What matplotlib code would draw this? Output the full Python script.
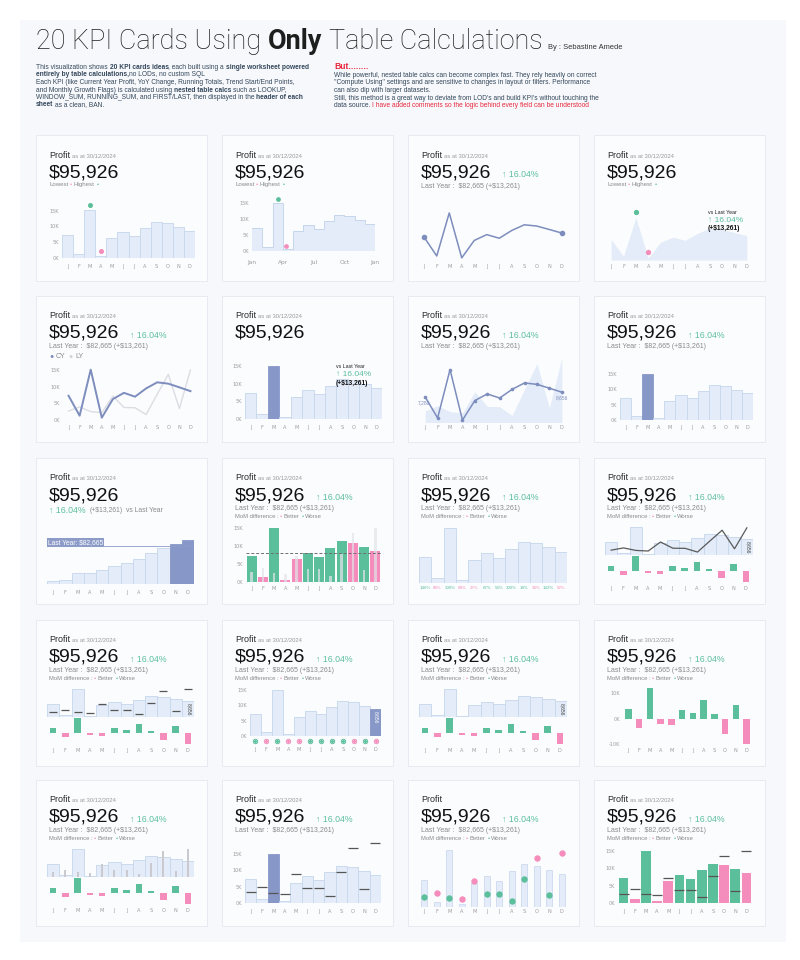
import numpy as np
import matplotlib
matplotlib.use("Agg")
import matplotlib.pyplot as plt
from matplotlib.patches import Rectangle
from matplotlib.lines import Line2D
from matplotlib.transforms import blended_transform_factory as blend

# ---- data
months = ['J', 'F', 'M', 'A', 'M', 'J', 'J', 'A', 'S', 'O', 'N', 'D']
profit_cy = [7280, 1290, 15110, 690, 6280, 8150, 6990, 9480, 11300, 10900, 9800, 8656]
profit_ly = [3300, 4800, 3100, 2700, 8800, 4600, 4500, 2000, 9465, 16800, 4200, 18400]
growth_pct = ['146%', '88%', '300%', '68%', '27%', '67%', '54%', '300%', '18%', '34%', '142%', '52%']
date_ticks = ['Jan', 'Apr', 'Jul', 'Oct', 'Jan']
k_ticks = [0, 5000, 10000, 15000]
diff_ticks = [-10000, 0, 10000]
kpi_value = '$95,926'
kpi_delta = '16.04%'
ly_value = '$82,665'
ly_diff = '+$13,261'
as_at = '30/12/2024'

cy = np.array(profit_cy)
ly = np.array(profit_ly)
diff = cy - ly
better = cy > ly
x = np.arange(12)

# ---- style
CARD_FONT = ['Liberation Sans', 'DejaVu Sans']
TITLE_FONT = ['Roboto', 'DejaVu Sans']
GREEN = '#5cbf9b'
PINK = '#f48dbb'
LIGHT = '#e3ecf8'
EDGE = '#c6d6ec'
DARKBAR = '#8797c8'
LINE = '#7d8dbd'
GRAY = '#8a8a8a'
TICK = '#9c9c9c'
DASH = '#555555'

W, H = 800, 960
fig = plt.figure(figsize=(8, 9.6), dpi=100, facecolor='white')
R = fig.canvas.get_renderer()


def fx(v):
    return v / W


def fy(v):
    return 1 - v / H


def esc(s):
    return s.replace('$', r'\$')


def rect(x0, y0, w, h, fc, ec='none', lw=0):
    fig.add_artist(Rectangle((fx(x0), fy(y0 + h)), w / W, h / H, transform=fig.transFigure,
                             fc=fc, ec=ec, lw=lw, zorder=0))


def text(x0, y0, s, size, color, weight='normal', family=CARD_FONT, **kw):
    kw.setdefault('va', 'baseline')
    kw.setdefault('ha', 'left')
    return fig.text(fx(x0), fy(y0), esc(s), fontsize=size, color=color, fontweight=weight,
                    family=family, **kw)


def width(s, size, weight='normal', family=CARD_FONT):
    t = fig.text(0, 0, esc(s), fontsize=size, fontweight=weight, family=family)
    w = t.get_window_extent(R).width
    t.remove()
    return w


def rich(x0, y0, segs, family=CARD_FONT):
    for s, color, weight, size in segs:
        sp = width('x x', size, weight, family) - width('xx', size, weight, family)
        core = s.strip(' ')
        x0 += (len(s) - len(s.lstrip(' '))) * sp
        if core:
            t = text(x0, y0, core, size, color, weight, family)
            x0 += t.get_window_extent(R).width
        x0 += (len(s) - len(s.rstrip(' '))) * sp
    return x0


# ---- background, title, notes
rect(20, 20, 766, 922, '#f7f8fb')

title_segs = [('20 KPI Cards Using ', 'light'), ('Only', 'bold'), (' Table Calculations', 'light')]
w20 = sum(width(s, 20, w, TITLE_FONT) for s, w in title_segs)
tsize = 20 * 506 / w20
xe = rich(36, 49, [(s, '#1e1e1e', w, tsize) for s, w in title_segs], family=TITLE_FONT)
rich(xe + 6, 49, [('By : Sebastine Amede', '#333333', 'normal', 5.4)], family=CARD_FONT)

NOTE = '#33475b'
dsize = 4.3 * 258 / width('Each KPI (like Current Year Profit, YoY Change, Running Totals, Trend Start/End Points,', 4.3)
left_lines = [
    [('This visualization shows ', 'normal'), ('20 KPI cards ideas', 'bold'), (', each built using a ', 'normal'),
     ('single worksheet powered', 'bold')],
    [('entirely by table calculations,', 'bold'), ('no LODs, no custom SQL', 'normal')],
    [('Each KPI (like Current Year Profit, YoY Change, Running Totals, Trend Start/End Points,', 'normal')],
    [('and Monthly Growth Flags) is calculated using ', 'normal'), ('nested table calcs', 'bold'),
     (' such as LOOKUP,', 'normal')],
    [('WINDOW_SUM, RUNNING_SUM, and FIRST/LAST, then displayed in the ', 'normal'), ('header of each', 'bold')],
    [('sheet', 'bold'), (' as a clean, BAN.', 'normal')],
]
for k, line in enumerate(left_lines):
    rich(36, 69 + 7.5 * k, [(s, NOTE, w, dsize) for s, w in line])

RED = '#e8283c'
rich(334, 69, [('But........', RED, 'bold', 6.2)])
right_lines = [
    [('While powerful, nested table calcs can become complex fast. They rely heavily on correct', NOTE)],
    [('"Compute Using" settings and are sensitive to changes in layout or filters. Performance', NOTE)],
    [('can also dip with larger datasets.', NOTE)],
    [("Still, this method is a great way to deviate from LOD's and build KPI's without touching the", NOTE)],
    [('data source. ', NOTE), ('I have added comments so the logic behind every field can be understood', RED)],
]
for k, line in enumerate(right_lines):
    rich(334, 77 + 7.5 * k, [(s, c, 'normal', dsize) for s, c in line])

# ---- cards
col_x = [36, 222, 408, 594]
row_y = [135, 296, 458, 620, 780]
card_pos = [(col_x[i % 4], row_y[i // 4]) for i in range(20)]
for cx, cy0 in card_pos:
    rect(cx, cy0, 171, 146, '#fbfcfe', ec='#e4e7ee', lw=0.6)


def header(i, asat=True, delta=True, last=True, sub=None):
    cx, cy0 = card_pos[i]
    segs = [('Profit', '#2b2b2b', 'normal', 6.5)]
    if asat:
        segs.append((' as at ' + as_at, '#9a9a9a', 'normal', 4.2))
    rich(cx + 13, cy0 + 22.5, segs)
    text(cx + 12.5, cy0 + 42, kpi_value, 14, '#111111')
    if delta:
        text(cx + 94, cy0 + 42, '\u2191 ' + kpi_delta, 6.3, GREEN)
    if last:
        text(cx + 13, cy0 + 52.5, 'Last Year :  %s (%s)' % (ly_value, ly_diff), 5, GRAY)
    if sub == 'lowhigh':
        rich(cx + 13, cy0 + 51, [('Lowest', GRAY, 'normal', 4.4), (' \u2022', PINK, 'normal', 4.4),
                                 (' Highest', GRAY, 'normal', 4.4), (' \u2022', GREEN, 'normal', 4.4)])
    elif sub == 'mom':
        rich(cx + 13, cy0 + 60, [('MoM difference :', GRAY, 'normal', 4.2), (' \u2022', PINK, 'normal', 4.2),
                                 (' Better', GRAY, 'normal', 4.2), (' \u2022', GREEN, 'normal', 4.2),
                                 (' Worse', GRAY, 'normal', 4.2)])
    elif sub == 'legend':
        rich(cx + 13, cy0 + 62, [('\u25cf', LINE, 'normal', 5), (' CY', GRAY, 'normal', 5),
                                 ('  \u25cf', '#d2d3da', 'normal', 5), (' LY', GRAY, 'normal', 5)])
    elif sub == 'vsline':
        rich(cx + 13, cy0 + 54.5, [('\u2191 ' + kpi_delta, GREEN, 'normal', 6.3),
                                   ('  (%s)' % ly_diff, GRAY, 'normal', 4.9),
                                   ('  vs Last Year', GRAY, 'normal', 4.9)])


def card_ax(i, x0, y0, x1, y1, ticks=True, lab=131):
    cx, cy0 = card_pos[i]
    a = fig.add_axes([fx(cx + x0), fy(cy0 + y1), (x1 - x0) / W, (y1 - y0) / H])
    a.patch.set_visible(False)
    for s in a.spines.values():
        s.set_visible(False)
    a.tick_params(axis='y', length=0, labelsize=3.6, labelcolor=TICK, pad=2)
    a.tick_params(axis='x', length=0, labelsize=3.6, labelcolor=TICK,
                  pad=max(0, (lab - 2 - y1) * 0.72))
    a.set_xlim(-0.5, 11.5)
    a.set_yticks([])
    if ticks:
        a.set_xticks(x, months)
    else:
        a.set_xticks([])
    return a


def twin(a, top):
    t = a.twinx()
    t.set_ylim(0, top)
    t.set_yticks([])
    t.patch.set_visible(False)
    for s in t.spines.values():
        s.set_visible(False)
    return t


def kaxis(a, ticks):
    a.set_yticks(ticks, ['%dK' % (v // 1000) for v in ticks])


def vs_box(i, rx, ry):
    cx, cy0 = card_pos[i]
    text(cx + rx, cy0 + ry, 'vs Last Year', 3.8, '#222222', va='center')
    text(cx + rx, cy0 + ry + 8, '\u2191 ' + kpi_delta, 6, GREEN, va='center')
    text(cx + rx, cy0 + ry + 16.5, '(%s)' % ly_diff, 4.8, '#111111', weight='bold', va='center')


def light_bars(a, width_=1.0, hi=None):
    cols = [DARKBAR if (hi is not None and hi[k]) else LIGHT for k in range(12)]
    edges = [DARKBAR if (hi is not None and hi[k]) else EDGE for k in range(12)]
    a.bar(x, cy, width=width_, color=cols, edgecolor=edges, lw=0.6)


def diff_panel(i):
    b = card_ax(i, 11, 97, 158, 128, lab=130)
    b.bar(x, diff, width=0.55, color=[GREEN if g else PINK for g in better])
    b.set_ylim(-12700, 13100)
    return b


def end_label(a, color):
    a.annotate('{:,}'.format(profit_cy[-1]), (11, profit_cy[-1]), xytext=(0.6, -1.5),
               textcoords='offset points', rotation=270, ha='center', va='top',
               fontsize=3.6, color=color, family=CARD_FONT)


imax = int(np.argmax(cy))
imin = int(np.argmin(cy))
is_max = cy == cy.max()
is_last = x == 11

# 1 - bars, lowest / highest
header(0, delta=False, last=False, sub='lowhigh')
a = card_ax(0, 26, 66, 159, 123)
light_bars(a)
a.plot(imax, cy[imax] + 1500, 'o', color=GREEN, ms=2.6)
a.plot(imin, cy[imin] + 1500, 'o', color=PINK, ms=2.6)
a.set_ylim(0, 18000)
kaxis(a, k_ticks)

# 2 - step area over dates
header(1, delta=False, last=False, sub='lowhigh')
a = card_ax(1, 30, 62, 153, 116, lab=127)
xs = np.arange(13)
ys = list(profit_cy) + [profit_cy[-1]]
a.fill_between(xs, ys, step='post', color=LIGHT, lw=0)
a.step(xs, ys, where='post', color=EDGE, lw=0.7)
a.plot(imax + 0.5, cy[imax] + 1300, 'o', color=GREEN, ms=2.4)
a.plot(imin + 0.3, cy[imin] + 1000, 'o', color=PINK, ms=2.4)
a.set_xlim(0, 12)
a.set_xticks([0, 3, 6, 9, 12], date_ticks)
a.tick_params(axis='x', labelsize=4.2)
a.set_ylim(0, 17000)
kaxis(a, k_ticks)

# 3 - line with start / end points
header(2)
a = card_ax(2, 10, 68, 160, 125)
a.plot(x, cy, color=LINE, lw=1.1)
a.plot([0, 11], [cy[0], cy[11]], 'o', color=LINE, ms=3)
a.set_ylim(0, 18300)

# 4 - area with lowest / highest and vs last year
header(3, delta=False, last=False, sub='lowhigh')
a = card_ax(3, 11, 68, 159, 125)
a.fill_between(x, cy, color=LIGHT, lw=0)
a.plot(imax, cy[imax] + 2000, 'o', color=GREEN, ms=2.8)
a.plot(imin, cy[imin] + 2200, 'o', color=PINK, ms=2.8)
a.set_ylim(0, 20300)
vs_box(3, 114, 77)

# 5 - CY vs LY lines
header(4, sub='legend')
a = card_ax(4, 27, 68, 160, 124)
t = twin(a, 20600)
t.plot(x, ly, color='#dcdde3', lw=1.0)
a.set_zorder(t.get_zorder() + 1)
a.plot(x, cy, color=LINE, lw=1.4)
a.set_ylim(0, 16800)
kaxis(a, k_ticks)

# 6 - bars, max highlighted, vs last year
header(5, delta=False, last=False)
a = card_ax(5, 23, 64, 160, 123)
light_bars(a, hi=is_max)
a.set_ylim(0, 16700)
kaxis(a, k_ticks)
vs_box(5, 114, 71)

# 7 - line over last-year area
header(6)
a = card_ax(6, 11, 60, 160, 126.5)
a.fill_between(x, ly, color=LIGHT, lw=0)
a.plot(x, cy, color=LINE, lw=1.1, marker='o', ms=1.6)
a.annotate('{:,}'.format(profit_cy[0]), (0, cy[0]), xytext=(-1, -2), textcoords='offset points',
           ha='center', va='top', fontsize=3.5, color=LINE, family=CARD_FONT)
a.annotate('{:,}'.format(profit_cy[-1]), (11, cy[11]), xytext=(0, -2), textcoords='offset points',
           ha='center', va='top', fontsize=3.5, color=LINE, family=CARD_FONT)
a.set_ylim(0, 19000)

# 8 - bars, max highlighted
header(7)
a = card_ax(7, 26, 68, 159, 124)
light_bars(a, hi=is_max)
a.set_ylim(0, 18200)
kaxis(a, k_ticks)

# 9 - running total vs last year total
header(8, delta=False, last=False, sub='vsline')
a = card_ax(8, 11, 68, 158, 126, lab=134)
run = np.cumsum(cy)
ly_total = ly.sum()
a.bar(x, run, width=1.0, color=[DARKBAR if v > ly_total else LIGHT for v in run],
      edgecolor=[DARKBAR if v > ly_total else EDGE for v in run], lw=0.6)
a.axhline(ly_total, color='#8d9bc8', lw=0.6)
a.text(-0.45, ly_total, esc('Last Year: ' + ly_value), ha='left', va='bottom', fontsize=4.8,
       color='white', family=CARD_FONT,
       bbox=dict(boxstyle='square,pad=0.15', fc='#8d9bc8', ec='none'))
a.set_ylim(0, 126000)

# 10 - better / worse bars with LY and average
header(9, sub='mom')
a = card_ax(9, 24, 64, 159, 124, lab=130)
a.bar(x, cy, width=0.88, color=[GREEN if g else PINK for g in better])
a.set_ylim(0, 16700)
kaxis(a, k_ticks)
t = twin(a, 20600)
t.bar(x, ly, width=0.22, color='#e4e4ea', alpha=0.7)
t.add_line(Line2D([-0.5, 11.5], [cy.mean(), cy.mean()], transform=a.transData,
                  color='#6e6e6e', lw=0.7, ls=(0, (3, 2))))
t.set_ylim(0, 20600)

# 11 - bars with growth labels
header(10, sub='mom')
a = card_ax(10, 11, 64, 159, 125, ticks=False)
light_bars(a)
a.set_ylim(0, 16800)
tr = blend(a.transData, a.transAxes)
for k in range(12):
    a.text(k, -0.05, growth_pct[k], transform=tr, ha='center', va='top', fontsize=3.2,
           color=GREEN if better[k] else PINK, family=CARD_FONT)

# 12 - bars + LY line, difference bars
header(11, sub='mom')
a = card_ax(11, 11, 66, 159, 97, ticks=False)
light_bars(a)
a.set_ylim(0, 16800)
end_label(a, '#444444')
t = twin(a, 21000)
t.plot(x, ly, color='#5a5a5a', lw=0.9)
diff_panel(11)

# 13 - bars + LY dashes, difference bars
header(12, sub='mom')
a = card_ax(12, 11, 66, 158, 97, ticks=False)
light_bars(a)
a.set_ylim(0, 16800)
end_label(a, '#444444')
t = twin(a, 20400)
t.plot(x, ly, ls='none', marker='_', ms=6, mew=0.9, color=DASH)
diff_panel(12)

# 14 - bars, last highlighted, better / worse circles
header(13, sub='mom')
a = card_ax(13, 28, 64, 159, 116, lab=129)
light_bars(a, hi=is_last)
end_label(a, 'white')
a.set_ylim(0, 16900)
kaxis(a, k_ticks)
tr = blend(a.transData, a.transAxes)
for k in range(12):
    c = GREEN if better[k] else PINK
    a.plot(k, -0.1, 'o', transform=tr, clip_on=False, ms=3.2, mfc='#eef1f6', mec=c, mew=0.7)
    a.plot(k, -0.1, 'o', transform=tr, clip_on=False, ms=1.1, color=c)

# 15 - bars, difference bars
header(14, sub='mom')
a = card_ax(14, 11, 66, 159, 97, ticks=False)
light_bars(a)
a.set_ylim(0, 16800)
end_label(a, '#444444')
diff_panel(14)

# 16 - difference bars only
header(15, sub='mom')
a = card_ax(15, 29, 64, 158, 126, lab=130)
a.bar(x, diff, width=0.6, color=[GREEN if g else PINK for g in better])
a.set_ylim(-10600, 13700)
kaxis(a, diff_ticks)

# 17 - bars + LY slim bars, difference bars
header(16, sub='mom')
a = card_ax(16, 11, 66, 158, 97, ticks=False)
light_bars(a)
a.set_ylim(0, 16800)
t = twin(a, 20400)
t.bar(x, ly, width=0.16, color='#c9c9cf')
diff_panel(16)

# 18 - bars, max highlighted, LY dashes
header(17)
a = card_ax(17, 23, 60, 159, 123)
light_bars(a, hi=is_max)
a.plot(x, ly, ls='none', marker='_', ms=7, mew=0.9, color=DASH)
a.set_ylim(0, 19300)
kaxis(a, k_ticks)

# 19 - slim bars + LY dots
header(18, asat=False, sub='mom')
a = card_ax(18, 10, 64, 160, 127)
a.bar(x, cy, width=0.45, color=LIGHT, edgecolor=EDGE, lw=0.5)
a.set_ylim(0, 16700)
t = twin(a, 21500)
for k in range(12):
    t.plot(k, ly[k], 'o', ms=3.6, color=GREEN if better[k] else PINK)

# 20 - better / worse bars + LY dashes
header(19, sub='mom')
a = card_ax(19, 24, 64, 158, 123)
a.bar(x, cy, width=0.88, color=[GREEN if g else PINK for g in better])
a.set_ylim(0, 17000)
kaxis(a, k_ticks)
t = twin(a, 20900)
t.plot(x, ly, ls='none', marker='_', ms=7.5, mew=0.9, color=DASH)

fig.savefig('out.png', dpi=100, facecolor='white')
